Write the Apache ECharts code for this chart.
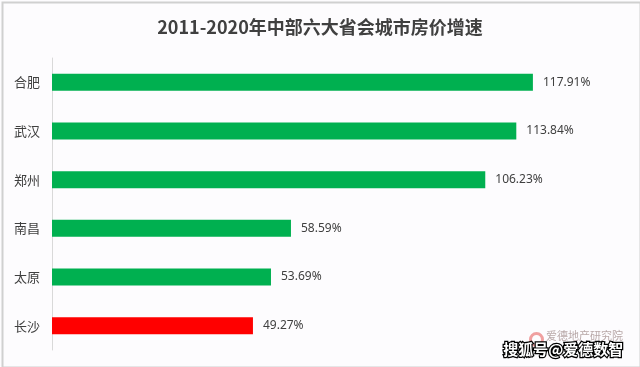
<!DOCTYPE html>
<html>
<head>
<meta charset="utf-8">
<script src="https://cdn.jsdelivr.net/npm/echarts@6/dist/echarts.min.js"></script>
<style>
  html, body { margin: 0; padding: 0; background: #fff; }
  #main { width: 640px; height: 367px; }
</style>
</head>
<body>
<div id="main"></div>
<script>
// 城市和增速（%）
var cities = ['合肥', '武汉', '郑州', '南昌', '太原', '长沙']
var growth = [117.91, 113.84, 106.23, 58.59, 53.69, 49.27]
var barColors = ['#00b050', '#00b050', '#00b050', '#00b050', '#00b050', '#ff0000']

var myChart = echarts.init(document.getElementById('main'))

var barData = []
for (var i = 0; i < cities.length; i++) {
    barData.push({
        value: growth[i],
        itemStyle: { color: barColors[i] }
    })
}

var option = {
    backgroundColor: '#fdfcfe',
    animation: false,
    title: {
        text: '2011-2020年中部六大省会城市房价增速',
        left: 'center',
        top: 13,
        textStyle: {
            color: '#404040',
            fontSize: 18,
            fontWeight: 'bold',
            fontFamily: 'Noto Sans CJK SC'
        }
    },
    grid: {
        left: 52,
        top: 58,
        width: 571,
        height: 292
    },
    xAxis: {
        type: 'value',
        min: 0,
        max: 140,
        show: false
    },
    yAxis: {
        type: 'category',
        inverse: true,
        data: cities,
        axisTick: { show: false },
        axisLine: { lineStyle: { color: '#d9d9d9', width: 1 } },
        axisLabel: {
            margin: 12,
            color: '#404040',
            fontSize: 13,
            fontFamily: 'Noto Sans CJK SC'
        }
    },
    series: [{
        type: 'bar',
        barWidth: 17,
        data: barData,
        label: {
            show: true,
            position: 'right',
            distance: 10,
            color: '#404040',
            fontSize: 12,
            fontFamily: 'Noto Sans',
            formatter: function (p) {
                return p.value.toFixed(2) + '%'
            }
        }
    }],
    graphic: [
        {
            type: 'rect',
            left: 0, top: 0,
            shape: { width: 638, height: 365 },
            style: { fill: 'none', stroke: '#d0d0d0', lineWidth: 2 },
            silent: true
        },
        {
            type: 'circle',
            left: 528, top: 331,
            shape: { r: 6 },
            style: { fill: 'none', stroke: '#f0a0a0', lineWidth: 3 },
            silent: true
        },
        {
            type: 'text',
            left: 546, top: 330,
            style: {
                text: '爱德地产研究院',
                fill: '#b8a8a8',
                font: '11px "Noto Sans CJK SC"'
            },
            silent: true
        },
        {
            type: 'text',
            left: 502, top: 341,
            style: {
                text: '搜狐号@爱德数智',
                fill: '#ffffff',
                stroke: '#000000',
                lineWidth: 2.5,
                font: 'bold 15px "Noto Sans CJK SC"'
            },
            silent: true
        }
    ]
}
myChart.setOption(option)
</script>
</body>
</html>
